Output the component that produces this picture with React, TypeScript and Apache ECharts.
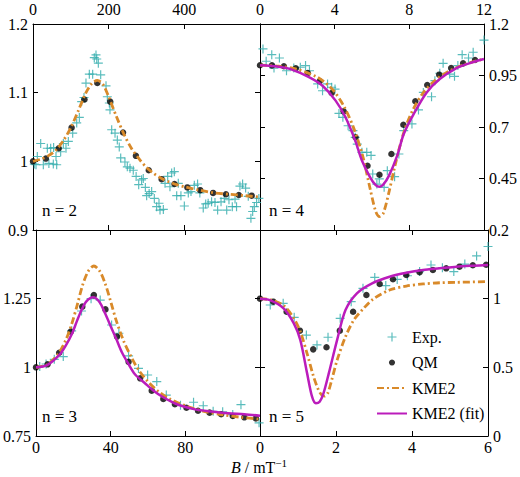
import React, { useEffect, useRef } from 'react';
import * as echarts from 'echarts';

// ---------- n = 2 (top-left) ----------
const n2ExpB = [3.5, 7.9, 11.4, 20.3, 27.3, 37.9, 42, 46.7, 53.7, 54.5, 60.8, 62.6, 73.1, 80.2, 87.2, 93.4, 104.9, 115.5, 122.5, 128.6, 134.8, 140, 148.9, 157.7, 162, 166.5, 168.5, 172.7, 178.9, 193, 196.5, 201.8, 203.5, 208, 216.8, 222.9, 228, 231.8, 243, 249.3, 256.4, 265, 272.6, 279.4, 287, 291.5, 297, 300.4, 307, 313.6, 320.7, 326.8, 333, 335.7, 344.5, 349, 356, 362, 366.5, 373.5, 379.8, 384, 391, 400, 410.5, 417.6, 426.4, 435, 441, 450, 456.5, 463, 472, 481, 488, 497, 505.6, 512, 518, 526.8, 534, 538, 547, 554, 562, 569, 576, 580.6, 585, 591, 597];
const n2ExpR = [0.996, 0.995, 1.007, 1.026, 0.995, 1.019, 0.997, 1.019, 0.996, 1.020, 1.007, 0.995, 1.014, 1.026, 1.019, 1.029, 1.041, 1.056, 1.064, 1.087, 1.093, 1.114, 1.127, 1.127, 1.151, 1.155, 1.149, 1.143, 1.126, 1.110, 1.094, 1.085, 1.075, 1.046, 1.041, 1.031, 1.021, 1.005, 0.999, 0.992, 0.990, 0.987, 0.978, 0.966, 0.973, 0.975, 0.962, 0.950, 0.953, 0.956, 0.946, 0.934, 0.939, 0.929, 0.930, 0.968, 0.978, 0.963, 0.983, 0.985, 0.950, 0.968, 0.950, 0.935, 0.954, 0.956, 0.965, 0.967, 0.954, 0.932, 0.938, 0.939, 0.941, 0.940, 0.929, 0.941, 0.946, 0.929, 0.944, 0.934, 0.945, 0.934, 0.964, 0.967, 0.961, 0.949, 0.917, 0.927, 0.934, 0.940, 0.946];
const n2QmB = [0, 34, 68, 102, 136, 170, 204, 238, 272, 306, 340, 374, 408, 442, 476, 510, 544, 578];
const n2QmR = [1.000, 1.004, 1.019, 1.049, 1.090, 1.114, 1.087, 1.042, 1.008, 0.987, 0.974, 0.967, 0.962, 0.958, 0.954, 0.952, 0.951, 0.950];
const n2KmeB = [0, 20, 40, 60, 80, 100, 120, 140, 155, 170, 185, 200, 220, 240, 260, 280, 300, 320, 340, 360, 380, 400, 440, 480, 520, 560, 600];
const n2KmeR = [1.000, 1.003, 1.008, 1.016, 1.030, 1.049, 1.074, 1.100, 1.113, 1.118, 1.112, 1.094, 1.066, 1.040, 1.019, 1.004, 0.991, 0.982, 0.975, 0.970, 0.966, 0.963, 0.958, 0.954, 0.952, 0.950, 0.948];

// ---------- n = 4 (top-right) ----------
const n4ExpB = [0.16, 0.33, 0.63, 0.75, 1.04, 1.42, 1.81, 2.16, 2.44, 2.65, 3.09, 3.35, 3.62, 3.84, 4.02, 4.23, 4.44, 4.72, 4.98, 5.1, 5.21, 5.46, 5.72, 5.95, 6.04, 6.26, 6.39, 6.65, 6.82, 7.21, 7.44, 7.7, 8.14, 8.49, 8.75, 9.19, 9.37, 9.63, 9.81, 10.16, 10.42, 10.6, 10.83, 11.17, 11.42, 12];
const n4ExpR = [1.079, 1.019, 1.051, 0.986, 1.035, 0.973, 0.986, 0.990, 0.998, 0.973, 0.909, 0.876, 0.909, 0.893, 0.884, 0.766, 0.747, 0.706, 0.682, 0.650, 0.617, 0.577, 0.577, 0.562, 0.472, 0.423, 0.448, 0.407, 0.488, 0.459, 0.569, 0.682, 0.715, 0.783, 0.868, 0.847, 0.925, 0.961, 1.009, 0.957, 0.946, 0.998, 1.051, 1.035, 1.063, 1.122];
const n4QmB = [0, 0.64, 1.28, 1.92, 2.56, 3.2, 3.84, 4.48, 5.12, 5.76, 6.4, 7.04, 7.68, 8.32, 8.96, 9.6, 10.24, 10.88, 11.52];
const n4QmR = [1.000, 0.999, 0.995, 0.985, 0.962, 0.922, 0.865, 0.776, 0.650, 0.512, 0.468, 0.569, 0.711, 0.825, 0.904, 0.954, 0.986, 1.009, 1.025];
const n4KmeB = [0, 1, 2, 3, 3.5, 4, 4.5, 5, 5.5, 5.9, 6.2, 6.4, 6.6, 6.9, 7.2, 7.5, 7.8, 8.2, 8.7, 9.3, 10, 11, 12];
const n4KmeR = [1.000, 0.995, 0.980, 0.945, 0.915, 0.870, 0.800, 0.700, 0.560, 0.400, 0.290, 0.265, 0.280, 0.380, 0.500, 0.610, 0.700, 0.785, 0.860, 0.920, 0.965, 1.005, 1.030];
const n4FitB = [0, 1, 1.6, 2.65, 3.35, 4.05, 4.58, 5.1, 5.46, 5.9, 6.2, 6.4, 6.6, 6.91, 7.35, 7.7, 8.23, 8.93, 9.63, 10.5, 11.2, 12];
const n4FitR = [1.000, 0.993, 0.982, 0.941, 0.900, 0.828, 0.747, 0.634, 0.537, 0.456, 0.418, 0.410, 0.420, 0.464, 0.561, 0.666, 0.763, 0.868, 0.933, 0.985, 1.009, 1.030];

// ---------- n = 3 (bottom-left) ----------
const n3ExpB = [2, 5.4, 9.8, 14.6, 19.1, 24.4, 29.5, 34.4, 40.5, 44.4, 49.6, 54.9, 59.8, 64.7, 69.8, 77.4, 84.4, 89.6, 94.9, 100, 105.4, 109.8, 119.5];
const n3ExpR = [1.003, 1.012, 1.029, 1.039, 1.133, 1.205, 1.250, 1.245, 1.154, 1.124, 1.042, 0.996, 0.972, 0.948, 0.899, 0.862, 0.873, 0.860, 0.840, 0.838, 0.828, 0.864, 0.798];
const n3QmB = [0, 6.2, 12.4, 18.6, 24.8, 31, 37.2, 43.4, 49.6, 55.8, 62, 68.2, 74.4, 80.6, 86.8, 93, 99.2, 105.4, 111.6, 117.8];
const n3QmR = [1.000, 1.011, 1.053, 1.130, 1.221, 1.263, 1.211, 1.112, 1.020, 0.960, 0.915, 0.885, 0.866, 0.853, 0.842, 0.835, 0.829, 0.823, 0.818, 0.814];
const n3KmeB = [0, 6, 12, 16, 19, 22, 25, 28, 31, 34, 37, 40, 43, 47, 51, 55, 60, 66, 72, 80, 90, 100, 110, 120];
const n3KmeR = [1.000, 1.010, 1.050, 1.100, 1.155, 1.225, 1.300, 1.350, 1.369, 1.352, 1.306, 1.240, 1.170, 1.095, 1.038, 0.990, 0.948, 0.910, 0.884, 0.860, 0.840, 0.827, 0.818, 0.811];
const n3FitB = [0, 6, 12.5, 16, 19.4, 22, 24.4, 27, 30.5, 34, 37, 40, 43.2, 46, 49.3, 53, 58.4, 63, 67.7, 72, 76.5, 85.3, 94, 102.8, 111.6, 120];
const n3FitR = [1.000, 1.008, 1.045, 1.080, 1.124, 1.170, 1.209, 1.240, 1.255, 1.238, 1.197, 1.150, 1.100, 1.055, 1.015, 0.975, 0.942, 0.915, 0.893, 0.877, 0.863, 0.847, 0.839, 0.833, 0.829, 0.824];

// ---------- n = 5 (bottom-right) ----------
const n5ExpB = [0.27, 0.61, 0.9, 1.22, 1.5, 1.79, 2.11, 2.4, 2.71, 3.02, 3.31, 3.61, 3.88, 4.2, 4.5, 4.8, 5.1, 5.39, 5.7, 6.0];
const n5ExpR = [0.954, 0.966, 0.864, 0.735, 0.663, 0.719, 0.857, 0.978, 1.075, 1.155, 1.095, 1.140, 1.167, 1.197, 1.245, 1.225, 1.197, 1.252, 1.311, 1.380];
const n5QmB = [0, 0.35, 0.7, 1.05, 1.4, 1.75, 2.1, 2.45, 2.8, 3.15, 3.5, 3.85, 4.2, 4.55, 4.9, 5.25, 5.6, 5.95];
const n5QmR = [1.000, 0.978, 0.905, 0.767, 0.631, 0.646, 0.767, 0.905, 1.027, 1.107, 1.141, 1.172, 1.192, 1.209, 1.221, 1.233, 1.243, 1.247];
const n5KmeB = [0, 0.3, 0.62, 0.89, 1.06, 1.24, 1.41, 1.54, 1.62, 1.7, 1.78, 1.88, 2.03, 2.25, 2.47, 2.73, 2.97, 3.41, 3.85, 4.29, 4.73, 5.17, 6];
const n5KmeR = [1.000, 0.990, 0.950, 0.857, 0.760, 0.600, 0.432, 0.335, 0.300, 0.290, 0.310, 0.400, 0.553, 0.723, 0.845, 0.930, 0.995, 1.063, 1.092, 1.107, 1.116, 1.119, 1.124];
const n5FitB = [0, 0.26, 0.62, 0.89, 1.06, 1.24, 1.37, 1.47, 1.57, 1.67, 1.81, 2.03, 2.25, 2.55, 2.95, 3.41, 3.85, 4.29, 4.73, 5.17, 5.61, 6];
const n5FitR = [1.000, 0.990, 0.930, 0.820, 0.700, 0.456, 0.286, 0.238, 0.250, 0.310, 0.456, 0.700, 0.917, 1.039, 1.112, 1.160, 1.189, 1.209, 1.221, 1.233, 1.240, 1.245];

const legendNames = ['Exp.', 'QM', 'KME2', 'KME2 (fit)'];
const panelLabels = ['n = 2', 'n = 4', 'n = 3', 'n = 5'];

const FONT = '"Liberation Serif", "Times New Roman", Times, "DejaVu Serif", serif';
const CYAN = '#30abab';
const MAG = '#bb1cbb';
const ORG = '#d98a2a';
const PLUS = 'path://M4.35,0H5.65V4.35H10V5.65H5.65V10H4.35V5.65H0V4.35H4.35Z';
const DOT_ICON = 'path://M0,0h0.01M10,10h0.01M5,1.6A3.4,3.4,0,1,0,5.001,1.6Z';
const NO_SYMBOL = { color: 'rgba(0,0,0,0)', borderColor: 'rgba(0,0,0,0)', borderWidth: 0 };

const zip = (xs: number[], ys: number[]) => xs.map((x, i) => [x, ys[i]]);

const panels = [
  { grid: { left: 33, top: 24, width: 227, height: 206 }, x: [0, 600, 200], y: [0.9, 1.2, 0.1], xTop: true, yLeft: true, xMax: false, yMax: true,
    exp: [n2ExpB, n2ExpR], qm: [n2QmB, n2QmR], kme: [n2KmeB, n2KmeR], fit: null as any, label: panelLabels[0], lx: 42, ly: 210 },
  { grid: { left: 260, top: 24, width: 228, height: 206 }, x: [0, 12, 4], y: [0.2, 1.2, 0.25], xTop: true, yLeft: false, xMax: true, yMax: true,
    exp: [n4ExpB, n4ExpR], qm: [n4QmB, n4QmR], kme: [n4KmeB, n4KmeR], fit: [n4FitB, n4FitR], label: panelLabels[1], lx: 269, ly: 210 },
  { grid: { left: 33, top: 230, width: 227, height: 206 }, x: [0, 120, 40], y: [0.75, 1.5, 0.25], xTop: false, yLeft: true, xMax: false, yMax: false,
    exp: [n3ExpB, n3ExpR], qm: [n3QmB, n3QmR], kme: [n3KmeB, n3KmeR], fit: [n3FitB, n3FitR], label: panelLabels[2], lx: 42, ly: 416 },
  { grid: { left: 260, top: 230, width: 228, height: 206 }, x: [0, 6, 2], y: [0, 1.5, 0.5], xTop: false, yLeft: false, xMax: true, yMax: false,
    exp: [n5ExpB, n5ExpR], qm: [n5QmB, n5QmR], kme: [n5KmeB, n5KmeR], fit: [n5FitB, n5FitR], label: panelLabels[3], lx: 269, ly: 416 },
];

function buildOption() {
  const grid: any[] = [];
  const xAxis: any[] = [];
  const yAxis: any[] = [];
  const series: any[] = [];
  const graphic: any[] = [];
  const axisBase = (min: number, max: number, interval: number, gi: number) => ({
    type: 'value', gridIndex: gi, min, max, interval,
    axisLine: { show: true, onZero: false, lineStyle: { color: '#000', width: 1 } },
    axisTick: { show: true, inside: true, length: 5, lineStyle: { color: '#000', width: 1 } },
    splitLine: { show: false },
  });
  panels.forEach((p, i) => {
    grid.push({ ...p.grid, containLabel: false });
    const lab = { color: '#000', fontFamily: FONT, fontSize: 16 };
    xAxis.push({ ...axisBase(p.x[0], p.x[1], p.x[2], i), position: p.xTop ? 'top' : 'bottom',
      axisLabel: { ...lab, show: true, margin: p.xTop ? 7 : 3, showMaxLabel: p.xMax, showMinLabel: true } });
    xAxis.push({ ...axisBase(p.x[0], p.x[1], p.x[2], i), position: p.xTop ? 'bottom' : 'top', axisLabel: { show: false } });
    yAxis.push({ ...axisBase(p.y[0], p.y[1], p.y[2], i), position: p.yLeft ? 'left' : 'right',
      axisLabel: { ...lab, show: true, margin: 5, showMaxLabel: p.yMax, showMinLabel: true } });
    yAxis.push({ ...axisBase(p.y[0], p.y[1], p.y[2], i), position: p.yLeft ? 'right' : 'left', axisLabel: { show: false } });
    const ax = { xAxisIndex: 2 * i, yAxisIndex: 2 * i };
    series.push({ type: 'scatter', name: legendNames[0], ...ax, data: zip(p.exp[0], p.exp[1]), symbol: PLUS, symbolSize: 9,
      itemStyle: { color: CYAN }, z: 2 });
    series.push({ type: 'scatter', name: legendNames[1], ...ax, data: zip(p.qm[0], p.qm[1]), symbol: 'circle', symbolSize: 6.5,
      itemStyle: { color: '#000' }, z: 3 });
    series.push({ type: 'line', name: legendNames[2], ...ax, data: zip(p.kme[0], p.kme[1]), symbol: 'none', showSymbol: false, smooth: 0.3,
      lineStyle: { color: ORG, width: 2.8, type: [7, 3, 2, 3] }, itemStyle: { color: ORG }, z: 4 });
    if (p.fit) {
      series.push({ type: 'line', name: legendNames[3], ...ax, data: zip(p.fit[0], p.fit[1]), symbol: 'none', showSymbol: false, smooth: 0.3,
        lineStyle: { color: MAG, width: 2.5 }, itemStyle: { color: MAG }, z: 5 });
    }
    graphic.push({ type: 'text', x: p.lx, y: p.ly, z: 10,
      style: { text: p.label, fill: '#000', font: `17px ${FONT}`, textAlign: 'left', textVerticalAlign: 'middle', align: 'left', verticalAlign: 'middle' } });
  });
  graphic.push({ type: 'text', x: 259, y: 467, z: 10,
    style: {
      text: '{i|B} / mT{s|−1}', fill: '#000', font: `16px ${FONT}`, textAlign: 'center', textVerticalAlign: 'middle', align: 'center', verticalAlign: 'middle',
      rich: {
        i: { fontFamily: FONT, fontSize: 16, fontStyle: 'italic', fill: '#000', lineHeight: 20 },
        s: { fontFamily: FONT, fontSize: 11, fill: '#000', verticalAlign: 'top', lineHeight: 20 },
      },
    } });
  return {
    animation: false,
    backgroundColor: '#fff',
    textStyle: { fontFamily: FONT },
    grid, xAxis, yAxis, series, graphic,
    legend: {
      orient: 'vertical', left: 371, top: 324, itemWidth: 30, itemHeight: 9, itemGap: 9.5, selectedMode: false,
      textStyle: { fontFamily: FONT, fontSize: 16, color: '#000' },
      data: [
        { name: legendNames[0], icon: PLUS },
        { name: legendNames[1], icon: DOT_ICON },
        { name: legendNames[2], itemStyle: NO_SYMBOL },
        { name: legendNames[3], itemStyle: NO_SYMBOL },
      ],
    },
  };
}

export default function App() {
  const ref = useRef<HTMLDivElement>(null);
  useEffect(() => {
    if (!ref.current) return;
    const chart = echarts.init(ref.current, undefined, { renderer: 'svg' });
    chart.setOption(buildOption() as any);
    return () => chart.dispose();
  }, []);
  return <div ref={ref} style={{ position: 'absolute', left: 0, top: 0, width: 520, height: 477 }} />;
}
